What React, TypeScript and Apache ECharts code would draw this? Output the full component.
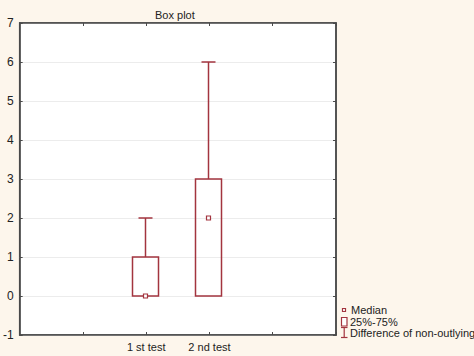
import React, { useEffect, useRef } from "react";
import * as echarts from "echarts";

const categories = ["", "", "1 st test", "2 nd test", "", ""];
// [categoryIndex, min, q1, median, q3, max]
const boxData = [
  [2, 0, 0, 0, 1, 2],
  [3, 0, 0, 2, 3, 6],
];
const yMin = -1;
const yMax = 7;
const legendLabels = ["Median", "25%-75%", "Difference of non-outlying"];

const RED = "#a3343f";
const FRAME = "#4a4a4a";
const BG = "#fdf6ec";

export default function App() {
  const ref = useRef<HTMLDivElement>(null);
  useEffect(() => {
    document.body.style.margin = "0";
    const chart = echarts.init(ref.current!, null, { renderer: "svg" });
    const font = "Liberation Sans, Arial, sans-serif";
    chart.setOption({
      animation: false,
      backgroundColor: BG,
      textStyle: { fontFamily: font },
      title: {
        text: "Box plot",
        left: 150,
        top: 4,
        textStyle: { fontSize: 11, fontWeight: "normal", color: "#222", fontFamily: font },
      },
      grid: {
        left: 16,
        top: 23,
        width: 320,
        height: 312,
        show: true,
        backgroundColor: "#ffffff",
        borderColor: FRAME,
        borderWidth: 1.5,
      },
      xAxis: [
        {
          type: "category",
          data: categories,
          boundaryGap: false,
          axisLine: { show: true, onZero: false, lineStyle: { color: FRAME, width: 1.5 } },
          axisTick: { show: true, inside: true, length: 3, interval: 0, lineStyle: { color: FRAME } },
          axisLabel: { interval: 0, color: "#222", fontSize: 11, margin: 6 },
          splitLine: { show: false },
        },
        {
          type: "category",
          data: categories,
          position: "top",
          boundaryGap: false,
          axisLine: { show: true, onZero: false, lineStyle: { color: FRAME, width: 1.5 } },
          axisTick: { show: true, inside: true, length: 3, interval: 0, lineStyle: { color: FRAME } },
          axisLabel: { show: false },
          splitLine: { show: false },
        },
      ],
      yAxis: [
        {
          type: "value",
          min: yMin,
          max: yMax,
          interval: 1,
          axisLine: { show: true, onZero: false, lineStyle: { color: FRAME, width: 1.5 } },
          axisTick: { show: true, inside: true, length: 3, lineStyle: { color: FRAME } },
          axisLabel: { color: "#222", fontSize: 12, margin: 6 },
          splitLine: { show: true, lineStyle: { color: "#ececec", width: 1 } },
        },
        {
          type: "value",
          min: yMin,
          max: yMax,
          interval: 1,
          position: "right",
          axisLine: { show: true, onZero: false, lineStyle: { color: FRAME, width: 1.5 } },
          axisTick: { show: true, inside: true, length: 3, lineStyle: { color: FRAME } },
          axisLabel: { show: false },
          splitLine: { show: false },
        },
      ],
      series: [
        {
          type: "custom",
          xAxisIndex: 0,
          yAxisIndex: 0,
          data: boxData,
          encode: { x: 0, y: [1, 2, 3, 4, 5] },
          renderItem: (params: any, api: any) => {
            const xi = api.value(0);
            const mn = api.coord([xi, api.value(1)]);
            const q1 = api.coord([xi, api.value(2)]);
            const md = api.coord([xi, api.value(3)]);
            const q3 = api.coord([xi, api.value(4)]);
            const mx = api.coord([xi, api.value(5)]);
            const cx = Math.round(q3[0]) - 0.5;
            const hw = 13;
            const cw = 7;
            const ls = { stroke: RED, lineWidth: 1.5, fill: null };
            const children: any[] = [];
            if (mx[1] < q3[1]) {
              children.push({ type: "line", shape: { x1: cx, y1: q3[1], x2: cx, y2: mx[1] }, style: ls });
              children.push({ type: "line", shape: { x1: cx - cw, y1: mx[1], x2: cx + cw, y2: mx[1] }, style: ls });
            }
            if (mn[1] > q1[1]) {
              children.push({ type: "line", shape: { x1: cx, y1: q1[1], x2: cx, y2: mn[1] }, style: ls });
              children.push({ type: "line", shape: { x1: cx - cw, y1: mn[1], x2: cx + cw, y2: mn[1] }, style: ls });
            }
            children.push({
              type: "rect",
              shape: { x: cx - hw, y: q3[1], width: hw * 2, height: q1[1] - q3[1] },
              style: { stroke: RED, lineWidth: 1.5, fill: "rgba(255,255,255,0)" },
            });
            children.push({
              type: "rect",
              shape: { x: cx - 2, y: md[1] - 2, width: 4, height: 4 },
              style: { stroke: RED, lineWidth: 1.2, fill: "#ffffff" },
            });
            return { type: "group", children };
          },
        },
      ],
      graphic: [
        { type: "rect", shape: { x: 342.5, y: 308.5, width: 3, height: 3 }, style: { stroke: RED, lineWidth: 1.2, fill: "#fff" } },
        { type: "text", x: 351, y: 310, style: { text: legendLabels[0], fontSize: 11, fill: "#222", verticalAlign: "middle", fontFamily: font } },
        { type: "rect", shape: { x: 341.5, y: 317.5, width: 5.5, height: 8.5 }, style: { stroke: RED, lineWidth: 1.2, fill: "#fff" } },
        { type: "text", x: 350, y: 322, style: { text: legendLabels[1], fontSize: 11, fill: "#222", verticalAlign: "middle", fontFamily: font } },
        { type: "line", shape: { x1: 341, y1: 327.5, x2: 347.5, y2: 327.5 }, style: { stroke: RED, lineWidth: 1.2 } },
        { type: "line", shape: { x1: 344.2, y1: 327.5, x2: 344.2, y2: 337.5 }, style: { stroke: RED, lineWidth: 1.2 } },
        { type: "line", shape: { x1: 341, y1: 337.5, x2: 347.5, y2: 337.5 }, style: { stroke: RED, lineWidth: 1.2 } },
        { type: "text", x: 350, y: 333, style: { text: legendLabels[2], fontSize: 11, fill: "#222", verticalAlign: "middle", fontFamily: font } },
      ],
    });
    return () => chart.dispose();
  }, []);
  return <div ref={ref} style={{ width: 474, height: 356 }} />;
}
